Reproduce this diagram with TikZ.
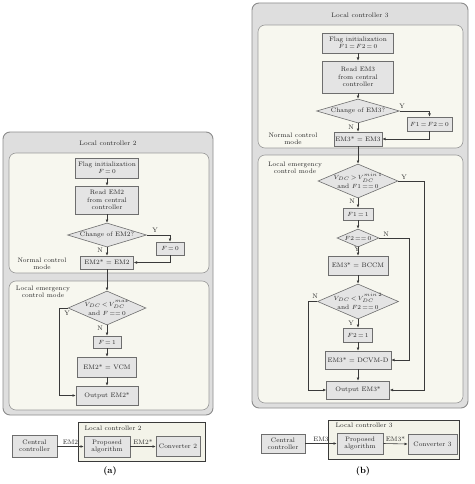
\documentclass[tikz,border=0pt]{standalone}
\usetikzlibrary{shapes.geometric,arrows.meta}
\definecolor{outerfill}{HTML}{DEDEDE}
\definecolor{outerdraw}{HTML}{8C8C8C}
\definecolor{innerfill}{HTML}{F7F7EF}
\definecolor{innerdraw}{HTML}{9A9A9A}
\definecolor{boxfill}{HTML}{E4E4E4}
\definecolor{boxdraw}{HTML}{6E6E6E}
\definecolor{linecol}{HTML}{3A3A3A}
\definecolor{lcfill}{HTML}{F3F3E9}
\thickmuskip=3mu plus 1mu
\medmuskip=2mu
\newcommand{\myvdc}[1]{V_{\lower0.6pt\hbox{$\scriptscriptstyle DC$}}^{\raise0.8pt\hbox{$\scriptscriptstyle #1$}}}
\tikzset{
  txt/.style={font=\fontsize{6.5}{7.4}\selectfont, align=center, text=black!85},
  proc/.style={rectangle, draw=boxdraw, fill=boxfill, line width=0.6pt, inner sep=0pt, txt},
  pbox/.style 2 args={proc, minimum width=#1pt, minimum height=#2pt},
  dia/.style 2 args={diamond, draw=boxdraw, fill=boxfill, line width=0.6pt, inner sep=0pt, minimum width=#1pt, minimum height=#2pt},
  dlab/.style={label={[txt]center:#1}},
  outerbox/.style={draw=outerdraw, fill=outerfill, line width=0.9pt, rounded corners=7pt},
  innerbox/.style={draw=innerdraw, fill=innerfill, line width=0.6pt, rounded corners=7pt},
  lcbox/.style={draw=linecol, fill=lcfill, line width=0.6pt},
  conn/.style={draw=linecol, line width=0.6pt},
  arr/.style={conn, -{Latex[length=3.2pt,width=2.8pt]}},
  yn/.style={font=\fontsize{6.5}{7}\selectfont, text=black!85, inner sep=0pt},
  figcap/.style={font=\bfseries\fontsize{9}{10}\selectfont, inner sep=0pt},
}
\begin{document}
\begin{tikzpicture}[x=1pt,y=-1pt]
\useasboundingbox (0,0) rectangle (474,484);
% ================= panel (a) =================
\draw[outerbox] (3,132) rectangle (213,415);
\draw[innerbox] (9,153) rectangle (209,273);
\draw[innerbox] (9,281) rectangle (209,410);
\node[txt] (titA) at (108,143) {Local controller 2};
\node[txt] (normA) at (42,264) {Normal control\\mode};
\node[txt] (emgA) at (43,291.5) {Local emergency\\control mode};

\node[pbox={63}{20}] (flagA) at (107,168) {Flag initialization\\$F=0$};
\node[pbox={63}{28}] (readA) at (107,200) {Read EM2\\from central\\controller};
\node[dia={79}{24}, dlab={Change of EM2?}] (decA) at (107,235) {};
\node[pbox={28}{13}] (f0A) at (170,248.5) {$F=0$};
\node[pbox={53}{13}] (emA) at (107,262.5) {EM2* = EM2};
\node[dia={78}{34}, dlab={$V_{DC}<\myvdc{max}$\\[2pt]and $F==0$}] (vdcA) at (107,308) {};
\node[pbox={28}{12}] (f1A) at (107,342) {$F=1$};
\node[pbox={59}{20}] (vcmA) at (107,367) {EM2* = VCM};
\node[pbox={62}{19}] (outA) at (107,395.5) {Output EM2*};
\coordinate (yA) at (59,308);

\draw[arr] (flagA) -- (readA);
\draw[arr] (readA) -- (decA);
\draw[arr] (decA.east) -| (f0A.north);
\draw[arr] (decA.south) -- (emA.north);
\draw[arr] (f0A.south) |- (emA.east);
\draw[arr] (emA.south) -- (vdcA.north);
\draw[arr] (vdcA.west) -- (yA) |- (outA.west);
\draw[arr] (vdcA.south) -- (f1A.north);
\draw[arr] (f1A) -- (vcmA);
\draw[arr] (vcmA) -- (outA);
\node[yn] (yA1) at (155,230.5) {Y};
\node[yn] (nA1) at (100,250) {N};
\node[yn] (yA2) at (67,313) {Y};
\node[yn] (nA2) at (100,328) {N};

% bottom (a)
\draw[lcbox] (78,422) rectangle (205,461);
\node[txt, anchor=west] (lc2) at (81,428.5) {Local controller 2};
\node[pbox={45}{22}] (cenA) at (34.5,446) {Central\\controller};
\node[pbox={46}{21}] (propA) at (107,446.5) {Proposed\\algorithm};
\node[pbox={44}{20}] (convA) at (178,446.5) {Converter 2};
\draw[arr] (cenA.east |- propA.west) -- node[yn, above=1.5pt] {EM2} (propA.west);
\draw[arr] (propA.east) -- node[yn, above=1.5pt] {EM2*} (convA.west);
\node[figcap] (capA) at (110,471) {(a)};

% ================= panel (b) =================
\draw[outerbox] (252,3) rectangle (468,408);
\draw[innerbox] (258,25) rectangle (463,148);
\draw[innerbox] (258,155) rectangle (463,403);
\node[txt] (titB) at (360,15) {Local controller 3};
\node[txt] (normB) at (293,138.5) {Normal control\\mode};
\node[txt] (emgB) at (295,167.5) {Local emergency\\control mode};

\node[pbox={71}{20}] (flagB) at (358,43) {Flag initialization\\$F1=F2=0$};
\node[pbox={71}{32}] (readB) at (358,77) {Read EM3\\from central\\controller};
\node[dia={83}{24}, dlab={Change of EM3?}] (decB) at (358,111) {};
\node[pbox={45}{14}] (f12B) at (429.5,124) {$F1=F2=0$};
\node[pbox={48}{14}] (emB) at (358,139) {EM3* = EM3};
\node[dia={80}{34}, dlab={$V_{DC}>\myvdc{min\,1}$\\[2pt]and $F1==0$}] (d1B) at (358,181) {};
\node[pbox={30}{12}] (f1B) at (358,214) {$F1=1$};
\node[dia={42}{18}, dlab={$F2==0$}] (d2B) at (358,238) {};
\node[pbox={60}{19}] (bccmB) at (358,265.5) {EM3* = BCCM};
\node[dia={81}{35}, dlab={$V_{DC}<\myvdc{min\,2}$\\[2pt]and $F2==0$}] (d3B) at (358,301.5) {};
\node[pbox={29}{14}] (f2B) at (358,335) {$F2=1$};
\node[pbox={66}{18}] (dcvmB) at (358,360) {EM3* = DCVM-D};
\node[pbox={63}{18}] (outB) at (358,390) {Output EM3*};
\coordinate (yB) at (424,181);
\coordinate (nB) at (409,238);
\coordinate (nB2) at (308,301.5);

\draw[arr] (flagB) -- (readB);
\draw[arr] (readB) -- (decB);
\draw[arr] (decB.east) -| (f12B.north);
\draw[arr] (decB.south) -- (emB.north);
\draw[arr] (f12B.south) |- (emB.east);
\draw[arr] (emB.south) -- (d1B.north);
\draw[arr] (d1B.east) -- (yB) |- (outB.east);
\draw[arr] (d1B.south) -- (f1B.north);
\draw[arr] (f1B) -- (d2B.north);
\draw[arr] (d2B.east) -- (nB) |- (dcvmB.east);
\draw[arr] (d2B.south) -- (bccmB.north);
\draw[arr] (bccmB) -- (d3B.north);
\draw[arr] (d3B.west) -- (nB2) |- (outB.west);
\draw[arr] (d3B.south) -- (f2B.north);
\draw[arr] (f2B) -- (dcvmB);
\draw[arr] (dcvmB) -- (outB);
\node[yn] (yB1) at (402,106.5) {Y};
\node[yn] (nB1) at (351,127) {N};
\node[yn] (yB2) at (404,177) {Y};
\node[yn] (nB3) at (352,201.5) {N};
\node[yn] (nB4) at (386,234) {N};
\node[yn] (yB3) at (357,249) {Y};
\node[yn] (nB5) at (315,296) {N};
\node[yn] (yB4) at (351,323.5) {Y};

% bottom (b)
\draw[lcbox] (328,420) rectangle (459,459);
\node[txt, anchor=west] (lc3) at (332,425.5) {Local controller 3};
\node[pbox={44}{19}] (cenB) at (283,443.5) {Central\\controller};
\node[pbox={46}{21}] (propB) at (360,443.5) {Proposed\\algorithm};
\node[pbox={49}{20}] (convB) at (432.5,444) {Converter 3};
\draw[arr] (cenB.east) -- node[yn, above=1.5pt] {EM3} (propB.west);
\draw[arr] (propB.east) -- node[yn, above=1.5pt] {EM3*} (convB.west);
\node[figcap] (capB) at (363,471) {(b)};
\end{tikzpicture}
\end{document}
